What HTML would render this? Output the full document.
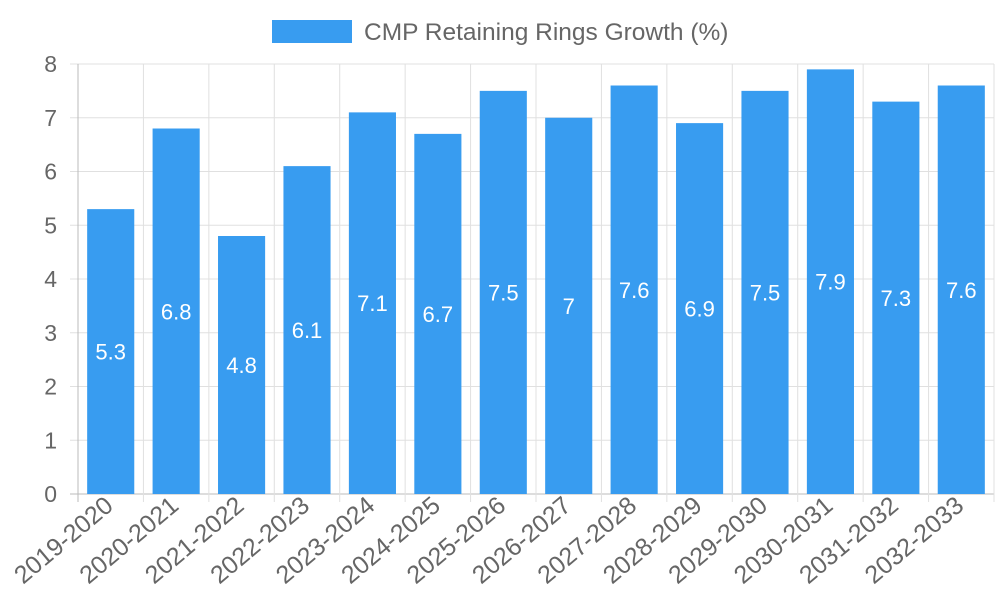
<!DOCTYPE html>
<html><head><meta charset="utf-8"><style>
html,body{margin:0;padding:0;background:#fff;}
svg{display:block;font-family:"Liberation Sans",sans-serif;}
</style></head><body>
<svg id="chart" width="1000" height="600">
<g>
<rect x="272" y="20" width="80" height="23" fill="#389cf0"></rect>
<text x="364" y="40" font-size="24.5" fill="#666">CMP Retaining Rings Growth (%)</text>
</g>
<g id="grid"></g>
<g id="bars"></g>
<g id="axes"></g>
</svg>
<script>
const categories=["2019-2020","2020-2021","2021-2022","2022-2023","2023-2024","2024-2025","2025-2026","2026-2027","2027-2028","2028-2029","2029-2030","2030-2031","2031-2032","2032-2033"];
const values=[5.3,6.8,4.8,6.1,7.1,6.7,7.5,7,7.6,6.9,7.5,7.9,7.3,7.6];
const yTicks=[0,1,2,3,4,5,6,7,8];
const NS="http://www.w3.org/2000/svg";
const L=78,R=994,T=64,B=494,yMax=8;
const band=(R-L)/categories.length;
const y=v=>B-(v/yMax)*(B-T);
const x=i=>L+i*band;
function mk(tag,attrs,parent){const e=document.createElementNS(NS,tag);for(const k in attrs)e.setAttribute(k,attrs[k]);parent.appendChild(e);return e;}
const grid=document.getElementById('grid'),bars=document.getElementById('bars'),axes=document.getElementById('axes');
yTicks.forEach(t=>{
  const l=mk('line',{x1:70,x2:R,y1:y(t),y2:y(t),stroke:t===0?'#bbb':'#e0e0e0','stroke-width':1},grid);
  
  
  const tx=mk('text',{x:57,y:y(t)+8,'text-anchor':'end','font-size':23,fill:'#666'},axes);
  tx.textContent=t;
  
  
});
for(let i=0;i<=categories.length;i++){
  const l=mk('line',{x1:x(i),x2:x(i),y1:T,y2:B+8,stroke:i===0?'#bbb':'#e0e0e0','stroke-width':1},grid);
  
  
}
categories.forEach((c,i)=>{
  const bw=band*0.72,bx=x(i)+(band-bw)/2,v=values[i];
  const r=mk('rect',{x:bx,y:y(v),width:bw,height:B-y(v),fill:'#389cf0'},bars);
  
  
  const t=mk('text',{x:bx+bw/2,y:(y(v)+B)/2+8,'text-anchor':'middle','font-size':22,fill:'#fff'},bars);
  t.textContent=v;
  
  
  const cx=x(i)+band/2;
  const xl=mk('text',{x:cx+4,y:B+14,'text-anchor':'end','font-size':25,fill:'#666',transform:`rotate(-40 ${cx+4} ${B+14})`},axes);
  xl.textContent=c;
  
  
});
</script>
</body></html>
